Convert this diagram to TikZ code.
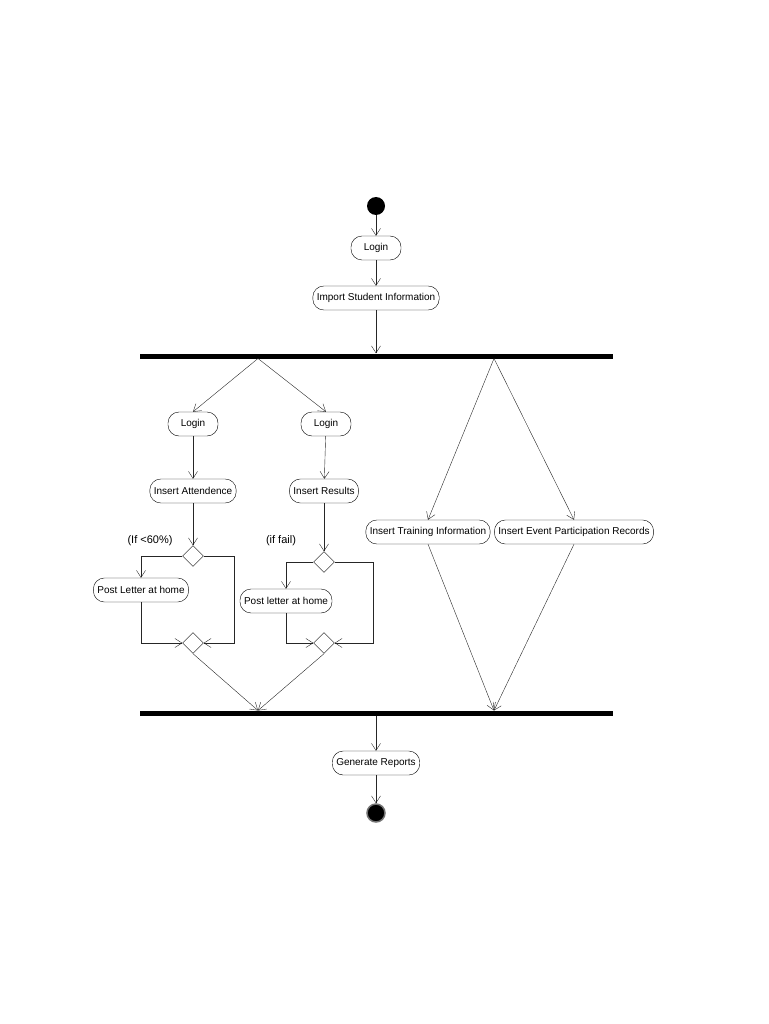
\documentclass[tikz,border=0pt]{standalone}
\usepackage{fontspec}
\setmainfont{Liberation Sans}
\usetikzlibrary{arrows.meta,shapes.geometric}
\begin{document}
\begin{tikzpicture}[x=1pt,y=-1pt,
	act/.style={draw,rounded corners=11pt,minimum height=24pt,minimum width=50pt,inner xsep=4pt,font=\fontsize{10}{11}\selectfont},
	choice/.style={draw,diamond,minimum size=21pt,inner sep=0pt},
	bar/.style={fill=black,minimum height=5pt,minimum width=473pt,inner sep=0pt},
	flow/.style={draw=black!85,-{Straight Barb[length=7pt,width=9pt]}},
	guard/.style={font=\fontsize{11}{12}\selectfont}]
	\useasboundingbox (0,0) rectangle (768,1024);
	% start and first actions
	\node [circle,fill=black,minimum size=18pt,inner sep=0pt] (start) at (376,206) {};
	\node [act] (login) at (376,248) {Login};
	\node [act] (import) at (376,298) {Import Student Information};
	\node [bar] (fork) at (376.5,356) {};
	\coordinate (forkA) at (258,358.5);
	\coordinate (forkB) at (494,358.5);
	% attendance branch
	\node [act] (loginA) at (193,424) {Login};
	\node [act] (attend) at (193,491) {Insert Attendence};
	\node [choice] (decA) at (193,556) {};
	\node [guard] (guardA) at (150,541) {(If <60\%)};
	\node [act] (postA) at (141,590) {Post Letter at home};
	\node [choice] (mergeA) at (193,643) {};
	% results branch
	\node [act] (loginB) at (326,424) {Login};
	\node [act] (results) at (324,491) {Insert Results};
	\node [choice] (decB) at (324,562) {};
	\node [guard] (guardB) at (281,541) {(if fail)};
	\node [act] (postB) at (286,601) {Post letter at home};
	\node [choice] (mergeB) at (324,643) {};
	% training and events
	\node [act] (train) at (428,532) {Insert Training Information};
	\node [act] (event) at (574,532) {Insert Event Participation Records};
	% join and end
	\node [bar] (join) at (376.5,713) {};
	\coordinate (joinA) at (258,710.5);
	\coordinate (joinB) at (494,710.5);
	\node [act] (report) at (376,763) {Generate Reports};
	\node [circle,fill=black,draw=black!55,line width=1.5pt,minimum size=18pt,inner sep=0pt] (stop) at (376,813) {};
	% connectors
	\draw [flow] (start) -- (login);
	\draw [flow] (login) -- (import);
	\draw [flow] (import) -- (import |- fork.north);
	\draw [flow] (forkA) -- (loginA.north);
	\draw [flow] (forkA) -- (loginB.north);
	\draw [flow] (loginA) -- (attend);
	\draw [flow] (loginB) -- (results);
	\draw [flow] (attend) -- (decA);
	\draw [flow] (results) -- (decB);
	\draw [flow] (decA.west) -| (postA.north);
	\draw [flow] (decA.east) -- ++(30,0) |- (mergeA.east);
	\draw [flow] (postA.south) |- (mergeA.west);
	\draw [flow] (decB.west) -| (postB.north);
	\draw [flow] (decB.east) -- ++(38,0) |- (mergeB.east);
	\draw [flow] (postB.south) |- (mergeB.west);
	\draw [flow] (mergeA.south) -- (joinA);
	\draw [flow] (mergeB.south) -- (joinA);
	\draw [flow] (forkB) -- (train.north);
	\draw [flow] (forkB) -- (event.north);
	\draw [flow] (train.south) -- (joinB);
	\draw [flow] (event.south) -- (joinB);
	\draw [flow] (report |- join.south) -- (report);
	\draw [flow] (report) -- (stop);
\end{tikzpicture}
\end{document}
